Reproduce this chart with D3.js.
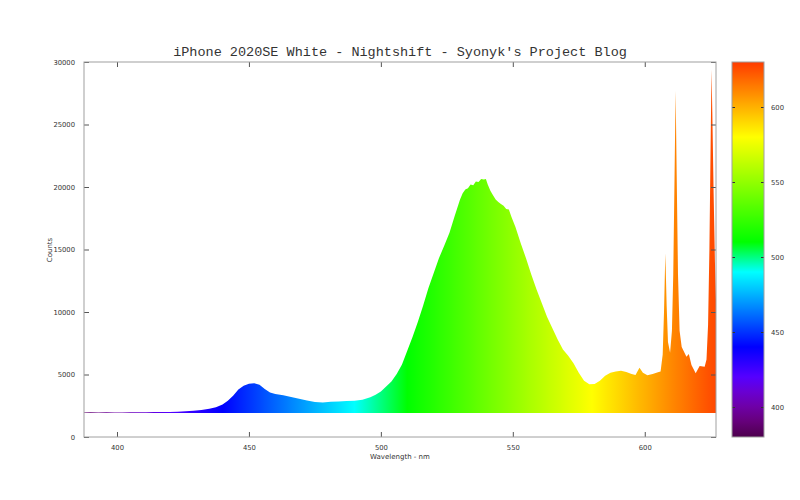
<!DOCTYPE html>
<html>
<head>
<meta charset="utf-8">
<script src="https://cdn.jsdelivr.net/npm/d3@7"></script>
<style>
  body { margin: 0; background: #fff; }
  svg { display: block; }
  .tick text { font-family: "DejaVu Sans", sans-serif; font-size: 6.8px; fill: #333; }
</style>
</head>
<body>
<svg id="chart" width="800" height="500"></svg>
<script>
// spectrum (nm, counts)
var wavelengths = [
  387.5, 390, 393, 396, 399, 402, 405, 408, 411, 414, 417, 420, 423, 426, 429, 432, 435, 437.5,
  440, 442, 444, 446, 448, 450, 452, 454, 456, 458, 460, 463, 466, 469, 472, 475, 478, 481,
  484, 487, 490, 493, 496, 498, 500, 502, 504, 506, 508, 510, 512, 514, 516, 518, 520, 522,
  524, 526, 528, 530, 531, 532, 533, 534, 535, 536, 537, 538, 539, 539.8, 540.5, 541.5, 542.5,
  543.5, 544.5, 545.5, 546.5, 547.5, 548.5, 549.5, 551, 553, 555, 557,
  559, 561, 563, 565, 567, 569, 571, 573, 575, 577, 579, 581, 583, 585, 587, 589, 591, 593,
  595, 596.5, 598, 599.3, 601, 603, 605, 606, 606.8, 607.3, 607.8, 608.3, 608.8, 609.6, 610.3,
  610.8, 611.3, 611.7, 612.1, 612.6, 613.2, 614, 615.8, 616.7, 617.7, 619.3, 620.8, 622.7,
  623.4, 624, 624.5, 625, 625.3, 625.6, 626.1, 626.6, 627
];
var counts = [
  1960, 1975, 1960, 1985, 1970, 1965, 1990, 1975, 1980, 1995, 2000, 2010, 2030, 2060, 2100, 2170, 2260, 2380,
  2600, 2900, 3300, 3800, 4100, 4270, 4300, 4180, 3850, 3570, 3440, 3350, 3200, 3060, 2920, 2800, 2760, 2820,
  2850, 2880, 2900, 2990, 3180, 3380, 3650, 4050, 4450, 5050, 5800, 6900, 8000, 9200, 10500, 11900, 13100, 14300,
  15300, 16350, 17700, 19000, 19500, 19800, 19900, 20200, 20150, 20450, 20400, 20650, 20600, 20650, 20200, 19700, 19350,
  19000, 18800, 18650, 18500, 18250, 18200, 17600, 16800, 15500, 14300, 13000,
  11800, 10700, 9600, 8700, 7800, 7000, 6500, 5900, 5150, 4500, 4220, 4250, 4500, 4900, 5150, 5250, 5300, 5200,
  5050, 4960, 5550, 5150, 4950, 5050, 5180, 5250, 6600, 10000, 14700, 10500, 7600, 6750, 8500,
  13000, 21000, 27700, 21000, 13000, 8500, 7200, 6420, 6640, 5760, 5100, 5680, 5620,
  6200, 9000, 15000, 24000, 29400, 26000, 19500, 14000, 11000
];
var baseline = 1920;

var yTicks = [0, 5000, 10000, 15000, 20000, 25000, 30000];
var xTicks = [400, 450, 500, 550, 600];
var cbTicks = [400, 450, 500, 550, 600];

var title = "iPhone 2020SE White - Nightshift - Syonyk's Project Blog";
var xLabel = "Wavelength - nm";
var yLabel = "Counts";

// wavelength palette
var paletteNm  = [380, 390, 400, 410, 420, 440, 490, 510, 580, 645];
var paletteRgb = ["#4d004d", "#650079", "#6e00a6", "#6900d2", "#5500ff", "#0000ff",
                  "#00ffff", "#00ff00", "#ffff00", "#ff0000"];
var palette = d3.scaleLinear().domain(paletteNm).range(paletteRgb).interpolate(d3.interpolateRgb);

var data = wavelengths.map(function(w, i) { return { w: w, c: counts[i] }; });

var svg = d3.select("#chart");
// NOTE: can't call these top/left at global scope, window.top is read only
var plotL = 84, plotR = 716, plotT = 62, plotB = 437;

var x = d3.scaleLinear().domain([387.5, 627]).range([plotL, plotR]);
var y = d3.scaleLinear().domain([0, 30000]).range([plotB, plotT]);

// gradient along x following the palette
var defs = svg.append("defs");
var grad = defs.append("linearGradient")
  .attr("id", "spec")
  .attr("gradientUnits", "userSpaceOnUse")
  .attr("x1", x(380)).attr("x2", x(630))
  .attr("y1", 0).attr("y2", 0);
d3.range(380, 631, 2).forEach(function(w) {
  grad.append("stop")
    .attr("offset", (w - 380) / 250)
    .attr("stop-color", palette(w));
});

defs.append("clipPath").attr("id", "plotclip")
  .append("rect")
  .attr("x", plotL).attr("y", plotT)
  .attr("width", plotR - plotL).attr("height", plotB - plotT);

var area = d3.area()
  .x(function(d) { return x(d.w); })
  .y0(y(baseline))
  .y1(function(d) { return y(d.c); });

svg.append("path")
  .datum(data)
  .attr("clip-path", "url(#plotclip)")
  .attr("fill", "url(#spec)")
  .attr("d", area);

// axes, gnuplot style: ticks inside, mirrored
var tickLen = 5;
svg.append("g")
  .attr("transform", "translate(" + plotL + ",0)")
  .call(d3.axisLeft(y).tickValues(yTicks).tickSize(-tickLen).tickPadding(9).tickFormat(d3.format("d")))
  .call(function(g) { g.select(".domain").remove(); });
svg.append("g")
  .attr("transform", "translate(" + plotR + ",0)")
  .call(d3.axisRight(y).tickValues(yTicks).tickSize(-tickLen).tickFormat(""))
  .call(function(g) { g.select(".domain").remove(); });
svg.append("g")
  .attr("transform", "translate(0," + plotB + ")")
  .call(d3.axisBottom(x).tickValues(xTicks).tickSize(-tickLen).tickPadding(8).tickFormat(d3.format("d")))
  .call(function(g) { g.select(".domain").remove(); });
svg.append("g")
  .attr("transform", "translate(0," + plotT + ")")
  .call(d3.axisTop(x).tickValues(xTicks).tickSize(-tickLen).tickFormat(""))
  .call(function(g) { g.select(".domain").remove(); });

svg.selectAll(".tick line").attr("stroke", "#555");

svg.append("rect")
  .attr("x", plotL).attr("y", plotT)
  .attr("width", plotR - plotL).attr("height", plotB - plotT)
  .attr("fill", "none").attr("stroke", "#a0a0a0").attr("stroke-width", 1);

// colour box
var cbL = 732, cbR = 764;
var cb = d3.scaleLinear().domain([380, 630]).range([plotB, plotT]);
var cbGrad = defs.append("linearGradient")
  .attr("id", "cbgrad")
  .attr("x1", 0).attr("x2", 0).attr("y1", 1).attr("y2", 0);
d3.range(380, 631, 2).forEach(function(w) {
  cbGrad.append("stop")
    .attr("offset", (w - 380) / 250)
    .attr("stop-color", palette(w));
});
svg.append("rect")
  .attr("x", cbL).attr("y", plotT)
  .attr("width", cbR - cbL).attr("height", plotB - plotT)
  .attr("fill", "url(#cbgrad)");

svg.append("g")
  .attr("transform", "translate(" + cbR + ",0)")
  .call(d3.axisRight(cb).tickValues(cbTicks).tickSize(-3).tickPadding(7).tickFormat(d3.format("d")))
  .call(function(g) { g.select(".domain").remove(); g.selectAll("line").attr("stroke", "#333"); });
svg.append("g")
  .attr("transform", "translate(" + cbL + ",0)")
  .call(d3.axisLeft(cb).tickValues(cbTicks).tickSize(-3).tickFormat(""))
  .call(function(g) { g.select(".domain").remove(); g.selectAll("line").attr("stroke", "#333"); });

svg.append("rect")
  .attr("x", cbL).attr("y", plotT)
  .attr("width", cbR - cbL).attr("height", plotB - plotT)
  .attr("fill", "none").attr("stroke", "#a0a0a0").attr("stroke-width", 1);

// texts
svg.append("text")
  .attr("x", 400).attr("y", 56)
  .attr("text-anchor", "middle")
  .style("font-family", "'Liberation Mono', monospace")
  .style("font-size", "13.5px")
  .attr("fill", "#333")
  .text(title);

svg.append("text")
  .attr("x", 400).attr("y", 459)
  .attr("text-anchor", "middle")
  .style("font-family", "'DejaVu Sans', sans-serif")
  .style("font-size", "7px")
  .attr("fill", "#333")
  .text(xLabel);

svg.append("text")
  .attr("transform", "translate(51.5,250) rotate(-90)")
  .attr("text-anchor", "middle")
  .style("font-family", "'DejaVu Sans', sans-serif")
  .style("font-size", "7px")
  .attr("fill", "#333")
  .text(yLabel);
</script>
</body>
</html>
